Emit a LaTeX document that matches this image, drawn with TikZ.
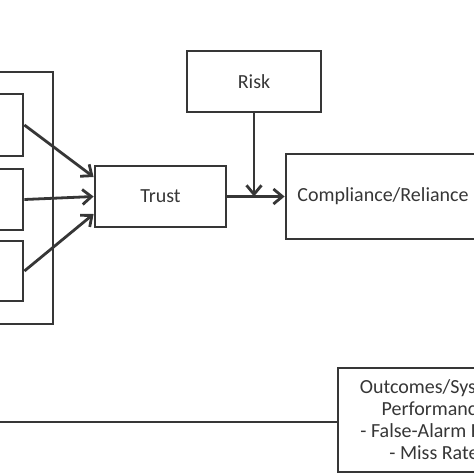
\documentclass[tikz,border=0pt]{standalone}
\usepackage{fontspec}
\setmainfont{Carlito}
\usetikzlibrary{arrows.meta,positioning}
\definecolor{inkgray}{HTML}{363636}

\begin{document}
\begin{tikzpicture}[x=1pt,y=-1pt,line width=2.8pt,draw=inkgray,
        >={Straight Barb[length=9pt,width=15pt,line width=2.8pt]}]
        \tikzstyle{box}=[rectangle, draw=inkgray, text=inkgray, inner sep=0pt, align=center,
                         font=\fontsize{20}{22}\selectfont]
        \tikzstyle{link}=[->, draw=inkgray]

        \useasboundingbox (0,0) rectangle (474,474);
        \clip (0,0) rectangle (474,474);

        \node[box, minimum width=83pt, minimum height=252pt] (group) at (11.5,198) {};
        \node[box, minimum width=53pt, minimum height=62pt]  (in1)   at (-3.5,125) {};
        \node[box, minimum width=53pt, minimum height=61pt]  (in2)   at (-3.5,199.5) {};
        \node[box, minimum width=53pt, minimum height=60pt]  (in3)   at (-3.5,271) {};

        \node[box, minimum width=131pt, minimum height=61pt] (trust)  at (160.5,196.5) {Trust};
        \node[box, minimum width=134pt, minimum height=61pt] (risk)   at (254,81.5) {Risk};
        \node[box, minimum width=194pt, minimum height=85pt] (comply) at (383,196.5) {Compliance/Reliance};
        \node[box, minimum width=192pt, minimum height=104pt] (outcome) at (434,420)
            {Outcomes/System\\Performance\\- False-Alarm Rate\\- Miss Rate};

        \coordinate (join) at (risk.south |- trust.east);
        \coordinate (back) at (-10,422);

        \draw[link] (in1.east) -- ([yshift=19.5pt]trust.west);
        \draw[link] (in2.east) -- (trust.west);
        \draw[link] (in3.east) -- ([yshift=-17.5pt]trust.west);
        \draw[link] (trust.east) -- (comply.west);
        \draw[link] (risk.south) -- (join);
        \draw (outcome.west |- back) -- (back);
\end{tikzpicture}
\end{document}
